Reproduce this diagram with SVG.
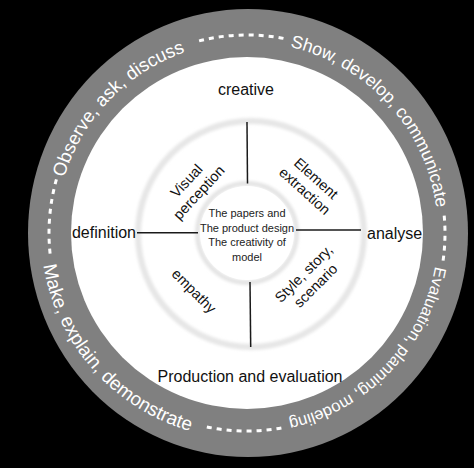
<svg xmlns="http://www.w3.org/2000/svg" width="474" height="468" viewBox="0 0 474 468">
<defs>
<style>
.lbl{font-family:"Liberation Sans",Arial,sans-serif;fill:#111;}
.big{font-size:16px;}
.rot{font-size:14.5px;text-anchor:middle;}
.ctr{font-size:11px;text-anchor:middle;fill:#222;}
.arc{font-family:"Liberation Sans",Arial,sans-serif;fill:#fff;}
.dash{fill:none;stroke:#fff;stroke-width:3;stroke-dasharray:5 5;}
.conn{stroke:#1a1a1a;stroke-width:1.5;fill:none;}
</style>
<filter id="soft" x="-20%" y="-20%" width="140%" height="140%"><feGaussianBlur stdDeviation="1.5"/></filter>
<path id="pObs" d="M64.1 177.8 A191 191 0 0 1 213.8 44.9"/>
<path id="pShow" d="M290 46.9 A191 191 0 0 1 438 233"/>
<path id="pEval" d="M435.1 266.2 A191 191 0 0 1 247 424"/>
<path id="pMake" d="M43.5 265.2 A206 206 0 0 0 247 439"/>
</defs>
<rect width="474" height="468" fill="#000"/>
<g id="outer-ring">
<ellipse cx="248" cy="233" rx="220" ry="224" fill="#808080"/>
<circle cx="247" cy="233" r="176" fill="#fff"/>
</g>
<g id="middle-ring">
<circle cx="251" cy="234" r="113" fill="none" stroke="#e6e6e6" stroke-width="6" filter="url(#soft)"/>
</g>
<g id="center">
<circle cx="247" cy="233" r="49.5" fill="#fff" stroke="#e4e4e4" stroke-width="5" filter="url(#soft)"/>
<circle cx="247" cy="233" r="47" fill="#fff"/>
<text class="lbl ctr" x="247" y="217">The papers and</text>
<text class="lbl ctr" x="247" y="231.5">The product design</text>
<text class="lbl ctr" x="247" y="246">The creativity of</text>
<text class="lbl ctr" x="247" y="260.5">model</text>
</g>
<g id="connectors">
<line class="conn" x1="247" y1="122" x2="247.5" y2="183.5"/>
<line class="conn" x1="250" y1="282" x2="250.7" y2="347"/>
<line class="conn" x1="137" y1="232.7" x2="198" y2="232.7"/>
<line class="conn" x1="296" y1="230" x2="361" y2="230"/>
</g>
<g id="creative"><text class="lbl big" x="246" y="95" text-anchor="middle">creative</text></g>
<g id="definition"><text class="lbl big" x="136" y="238" text-anchor="end">definition</text></g>
<g id="analyse"><text class="lbl big" x="367" y="239">analyse</text></g>
<g id="production"><text class="lbl big" x="250" y="382" text-anchor="middle">Production and evaluation</text></g>
<g id="visual-perception" transform="translate(193 187) rotate(-47)">
<text class="lbl rot" x="0" y="-4">Visual</text>
<text class="lbl rot" x="0" y="13">perception</text>
</g>
<g id="element-extraction" transform="translate(310 185) rotate(42)">
<text class="lbl rot" x="0" y="-4">Element</text>
<text class="lbl rot" x="0" y="13">extraction</text>
</g>
<g id="empathy" transform="translate(194 291) rotate(45)">
<text class="lbl rot" x="0" y="5">empathy</text>
</g>
<g id="style-story" transform="translate(310 280) rotate(-45)">
<text class="lbl rot" x="0" y="-4">Style, story,</text>
<text class="lbl rot" x="0" y="13">scenario</text>
</g>
<g id="ring-texts">
<text class="arc" font-size="18.5"><textPath href="#pObs">Observe, ask, discuss</textPath></text>
<text class="arc" font-size="17.8"><textPath href="#pShow">Show, develop, communicate</textPath></text>
<text class="arc" font-size="16.5"><textPath href="#pEval">Evaluation, planning, modeling</textPath></text>
<text class="arc" font-size="19"><textPath href="#pMake">Make, explain, demonstrate</textPath></text>
</g>
<g id="ring-dashes">
<path class="dash" d="M199.1 40.9 A198 198 0 0 1 288.2 39.3"/>
<path class="dash" d="M50.1 253.7 A198 198 0 0 1 56.7 178.4"/>
<path class="dash" d="M444.2 215.7 A198 198 0 0 1 443.1 260.6"/>
<path class="dash" d="M281.4 428 A198 198 0 0 1 205.8 426.7"/>
</g>
</svg>
